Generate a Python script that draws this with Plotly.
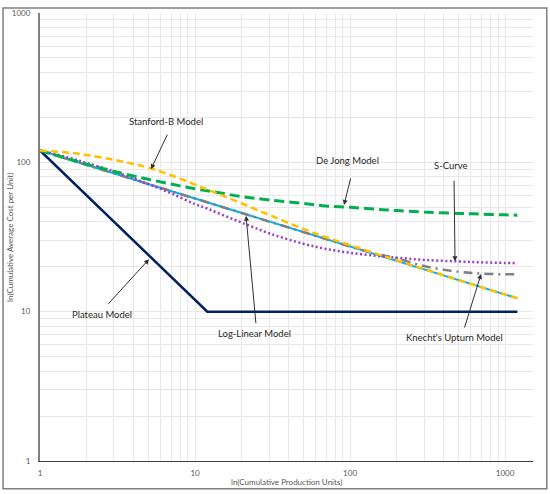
"""
Learning curve models on log-log axes.
"""

import plotly.graph_objects as go

# cumulative production units
units = [1, 1.5, 2, 3, 4, 5, 7, 10, 12, 15, 20, 30, 50, 70, 100,
         150, 200, 300, 500, 700, 1000, 1200]

log_linear = [120, 105.3, 96, 84.3, 76.8, 71.5, 64.2, 57.2, 54, 50.2, 45.8, 40.2, 34.1, 30.6, 27.3,
              24.0, 21.8, 19.2, 16.3, 14.6, 13.0, 12.3]
stanford_b = [120, 116.5, 112, 104, 97.5, 92, 82, 71, 65.8, 60, 53, 44.5, 35.8, 31.5, 27.9,
              24.3, 22.1, 19.3, 16.3, 14.6, 13.0, 12.3]
de_jong = [120, 106, 97, 87, 81, 77, 71.5, 66.5, 64.5, 62, 59, 56, 53, 51, 50,
           48.5, 47.5, 46.5, 45.5, 45, 44.5, 44.3]
s_curve = [120, 108, 99, 87, 78, 71.5, 62, 52.5, 49, 44.5, 39.5, 33.5, 28.5, 26.3, 24.8,
           23.6, 23, 22.2, 21.7, 21.4, 21.2, 21.1]
knecht = [120, 105.3, 96, 84.3, 76.8, 71.5, 64.2, 57.2, 54, 50.2, 45.8, 40.2, 34.1, 30.6, 27.3,
          24.3, 22.7, 20.2, 18.5, 18.0, 17.8, 17.8]

plateau_units = [1, 12, 1200]
plateau = [120, 10, 10]

decades = [1, 10, 100, 1000]
grid_vals = [m * d for d in [1, 10, 100] for m in range(1, 10)] + [1000]
grid_text = [str(v) if v in decades else "" for v in grid_vals]

FONT = "Lato"
TEXT = "#262626"

fig = go.Figure()

fig.add_trace(go.Scatter(x=plateau_units, y=plateau, mode="lines", name="Plateau Model",
                         line=dict(color="#002060", width=2.5)))
fig.add_trace(go.Scatter(x=units, y=log_linear, mode="lines", name="Log-Linear Model",
                         line=dict(color="#00B0F0", width=2)))
fig.add_trace(go.Scatter(x=units, y=knecht, mode="lines", name="Knecht's Upturn Model",
                         line=dict(color="#808080", width=2.5, dash="9px,5px,2px,5px", shape="spline")))
fig.add_trace(go.Scatter(x=units, y=s_curve, mode="lines", name="S-Curve",
                         line=dict(color="#9A3DCC", width=2.5, dash="2px,2.5px", shape="spline")))
fig.add_trace(go.Scatter(x=units, y=de_jong, mode="lines", name="De Jong Model",
                         line=dict(color="#00B050", width=3, dash="10px,5px", shape="spline")))
fig.add_trace(go.Scatter(x=units, y=stanford_b, mode="lines", name="Stanford-B Model",
                         line=dict(color="#FFC000", width=2.5, dash="7px,4px", shape="spline")))

# label text (log10 data coords) and arrow (head in log10 coords, tail offset in px)
labels = [
    ("Stanford-B Model", 0.813, 2.272, 0.716, 1.954, 17, -36),
    ("De Jong Model", 1.981, 2.013, 1.961, 1.715, 7, -28),
    ("S-Curve", 2.652, 1.980, 2.677, 1.338, -1, -82),
    ("Knecht's Upturn Model", 2.671, 0.828, 2.845, 1.252, -17, 55),
    ("Log-Linear Model", 1.381, 0.854, 1.329, 1.642, 10, 109),
    ("Plateau Model", 0.403, 0.980, 0.703, 1.351, -42, 46),
]
for text, tx, ty, hx, hy, ax, ay in labels:
    fig.add_annotation(x=tx, y=ty, text=text, showarrow=False,
                       xanchor="center", yanchor="middle",
                       font=dict(family=FONT, size=9.5, color=TEXT))
    fig.add_annotation(x=hx, y=hy, text="", showarrow=True, ax=ax, ay=ay,
                       arrowhead=2, arrowsize=1, arrowwidth=1, arrowcolor="#303030")

# axis titles
fig.add_annotation(x=-0.061, y=0.5, xref="paper", yref="paper", textangle=-90,
                   xanchor="center", yanchor="middle",
                   text="ln(Cumulative Average Cost per Unit)", showarrow=False,
                   font=dict(family=FONT, size=8, color="#595959"))
fig.add_annotation(x=0.5, y=-0.046, xref="paper", yref="paper",
                   xanchor="center", yanchor="middle",
                   text="ln(Cumulative Production Units)", showarrow=False,
                   font=dict(family=FONT, size=8, color="#595959"))

# outer frame
fig.add_shape(type="rect", xref="paper", yref="paper", x0=-0.075, x1=1.028, y0=-0.062, y1=1.011,
              line=dict(color="#7f7f7f", width=1.5))

fig.update_xaxes(type="log", range=[0, 3.18], tickvals=grid_vals, ticktext=grid_text,
                 showgrid=True, gridcolor="#e8e8e8", gridwidth=1,
                 showline=True, linecolor="#404040", linewidth=1.2,
                 ticks="", ticklabelstandoff=4,
                 tickfont=dict(family=FONT, size=8, color="#595959"))
fig.update_yaxes(type="log", range=[0, 3], tickvals=grid_vals, ticktext=grid_text,
                 showgrid=True, gridcolor="#e8e8e8", gridwidth=1,
                 showline=True, linecolor="#808080", linewidth=2,
                 ticks="", ticklabelstandoff=6,
                 tickfont=dict(family=FONT, size=8, color="#595959"))

fig.update_layout(
    width=550, height=494,
    margin=dict(l=40, r=17, t=8, b=33),
    showlegend=False,
    plot_bgcolor="white",
    paper_bgcolor="white",
)

# drop the default page margin so the figure sits at the window origin
fig.write_html("out.html", config={"displayModeBar": False},
               post_script="document.body.style.margin='0px';")
